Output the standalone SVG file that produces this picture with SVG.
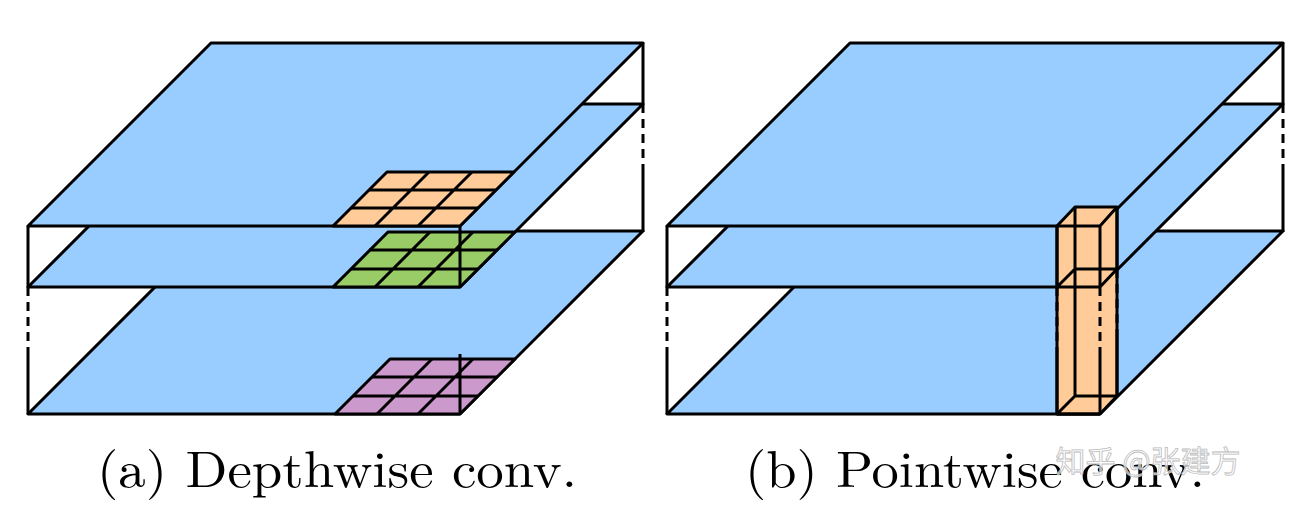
<svg xmlns="http://www.w3.org/2000/svg" width="1300" height="516" viewBox="0 0 1300 516">
<style>
.pl{fill:#99ccff;stroke:#000;stroke-width:3;stroke-linejoin:round}
.ln{stroke:#000;stroke-width:3;fill:none}
.ds{stroke:#000;stroke-width:3;fill:none;stroke-dasharray:9 6}
.or{fill:#ffcc99;stroke:#000;stroke-width:3;stroke-linejoin:round}
.gr{fill:#99cc66;stroke:#000;stroke-width:3;stroke-linejoin:round}
.pu{fill:#cc99cc;stroke:#000;stroke-width:3;stroke-linejoin:round}
.cap{font-family:"Latin Modern Roman","Liberation Serif",serif;font-size:51px;fill:#000}
</style>
<rect width="1300" height="516" fill="#fff"/>
<g id="depthwise">
<path class="ds" d="M28 287V350M460 287V354M643 104V170"/>
<path class="ln" d="M643 170V232M28 350V414M460 354V414"/>
<polygon class="pl" points="28,414 460,414 643,231 211,231"/>
<polygon class="pu" points="335,414 460,414 515,359 390,359"/>
<path class="ln" d="M353,396 478,396 M372,377 497,377 M377,414 432,359 M418,414 473,359"/>
<path class="ln" d="M460 354V414"/>
<polygon class="pl" points="28,287 460,287 643,104 211,104"/>
<polygon class="gr" points="333,287 460,287 515,232 388,232"/>
<path class="ln" d="M351,269 478,269 M369,250 497,250 M375,287 430,232 M418,287 473,232"/>
<path class="ln" d="M460 226V287"/>
<polygon class="pl" points="28,226 460,226 643,43 211,43"/>
<polygon class="or" points="333,226 460,226 514,172 387,172"/>
<path class="ln" d="M351,208 478,208 M369,190 496,190 M375,226 429,172 M418,226 472,172"/>
<path class="ln" d="M28 226V287M643 43V104"/>
</g>
<g id="pointwise">
<path class="ds" d="M667 287V350M1283 104V170"/>
<path class="ln" d="M1283 170V232M667 350V414"/>
<polygon class="pl" points="667,414 1100,414 1283,231 850,231"/>
<polygon class="pl" points="667,287 1100,287 1283,104 850,104"/>
<polygon class="pl" points="667,226 1100,226 1283,43 850,43"/>
<path class="ln" d="M667 226V287M1283 43V104"/>
<g id="column">
<polygon class="or" points="1057,226 1075,207 1117,207 1117,396 1100,414 1057,414"/>
<path class="ln" d="M1057,226 1100,226 1117,207 M1100,226V287 M1075,207V396 M1057,287 1075,269 1117,269 M1057,287 1100,287 1117,269 M1057,414 1075,396 1117,396 M1117,207V269 M1057,226V287"/>
<path class="ds" d="M1057 287V350M1100 287V350M1117 269V330"/>
<path class="ln" d="M1057 350V414M1100 350V414M1117 330V396M1057 414H1100"/>
</g>
</g>
<g id="labels">
<text class="cap" x="97" y="487" textLength="480" lengthAdjust="spacingAndGlyphs">(a) Depthwise conv.</text>
<text class="cap" x="745" y="487" textLength="460" lengthAdjust="spacingAndGlyphs">(b) Pointwise conv.</text>
<text x="1148" y="472" text-anchor="middle" font-family="'Noto Sans CJK SC',sans-serif" font-size="30" fill="#fff" fill-opacity="0.7" stroke="#bbb" stroke-width="0.8">知乎 @张建方</text>
</g>
</svg>
